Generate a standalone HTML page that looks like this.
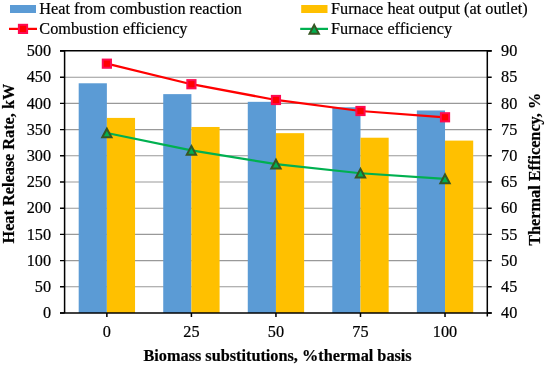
<!DOCTYPE html>
<html><head><meta charset="utf-8"><style>
html,body{margin:0;padding:0;background:#fff;}
body{width:550px;height:368px;overflow:hidden;}
svg{display:block;}
text{font-family:'Liberation Serif','Times New Roman',serif;font-size:16.25px;fill:#000;stroke:#000;stroke-width:0.2px;}
</style></head><body>
<svg width="550" height="368" viewBox="0 0 550 368">
<rect width="550" height="368" fill="#fff"/>
<line x1="64.6" x2="487.3" y1="286.80" y2="286.80" stroke="#999999" stroke-width="1.1"/>
<line x1="64.6" x2="487.3" y1="260.60" y2="260.60" stroke="#999999" stroke-width="1.1"/>
<line x1="64.6" x2="487.3" y1="234.40" y2="234.40" stroke="#999999" stroke-width="1.1"/>
<line x1="64.6" x2="487.3" y1="208.20" y2="208.20" stroke="#999999" stroke-width="1.1"/>
<line x1="64.6" x2="487.3" y1="182.00" y2="182.00" stroke="#999999" stroke-width="1.1"/>
<line x1="64.6" x2="487.3" y1="155.80" y2="155.80" stroke="#999999" stroke-width="1.1"/>
<line x1="64.6" x2="487.3" y1="129.60" y2="129.60" stroke="#999999" stroke-width="1.1"/>
<line x1="64.6" x2="487.3" y1="103.40" y2="103.40" stroke="#999999" stroke-width="1.1"/>
<line x1="64.6" x2="487.3" y1="77.20" y2="77.20" stroke="#999999" stroke-width="1.1"/>
<rect x="78.69" y="83.28" width="28.18" height="229.72" fill="#5b9bd5"/>
<rect x="106.87" y="117.91" width="28.18" height="195.09" fill="#ffc000"/>
<rect x="163.23" y="94.13" width="28.18" height="218.87" fill="#5b9bd5"/>
<rect x="191.41" y="126.98" width="28.18" height="186.02" fill="#ffc000"/>
<rect x="247.77" y="101.83" width="28.18" height="211.17" fill="#5b9bd5"/>
<rect x="275.95" y="133.16" width="28.18" height="179.84" fill="#ffc000"/>
<rect x="332.31" y="107.28" width="28.18" height="205.72" fill="#5b9bd5"/>
<rect x="360.49" y="137.72" width="28.18" height="175.28" fill="#ffc000"/>
<rect x="416.85" y="110.47" width="28.18" height="202.53" fill="#5b9bd5"/>
<rect x="445.03" y="140.60" width="28.18" height="172.40" fill="#ffc000"/>
<path d="M59.99999999999999 50.8H491.7" stroke="#000" stroke-width="1.4"/>
<path d="M59.99999999999999 313.0H491.7" stroke="#000" stroke-width="1.4"/>
<path d="M64.6 51.0V313.0" stroke="#000" stroke-width="1.5"/>
<path d="M487.3 51.0V316.6" stroke="#000" stroke-width="1.5"/>
<path d="M59.99999999999999 313.00H64.6M487.3 313.00H491.7" stroke="#000" stroke-width="1.4"/>
<path d="M59.99999999999999 286.80H64.6M487.3 286.80H491.7" stroke="#000" stroke-width="1.4"/>
<path d="M59.99999999999999 260.60H64.6M487.3 260.60H491.7" stroke="#000" stroke-width="1.4"/>
<path d="M59.99999999999999 234.40H64.6M487.3 234.40H491.7" stroke="#000" stroke-width="1.4"/>
<path d="M59.99999999999999 208.20H64.6M487.3 208.20H491.7" stroke="#000" stroke-width="1.4"/>
<path d="M59.99999999999999 182.00H64.6M487.3 182.00H491.7" stroke="#000" stroke-width="1.4"/>
<path d="M59.99999999999999 155.80H64.6M487.3 155.80H491.7" stroke="#000" stroke-width="1.4"/>
<path d="M59.99999999999999 129.60H64.6M487.3 129.60H491.7" stroke="#000" stroke-width="1.4"/>
<path d="M59.99999999999999 103.40H64.6M487.3 103.40H491.7" stroke="#000" stroke-width="1.4"/>
<path d="M59.99999999999999 77.20H64.6M487.3 77.20H491.7" stroke="#000" stroke-width="1.4"/>
<path d="M59.99999999999999 51.00H64.6M487.3 51.00H491.7" stroke="#000" stroke-width="1.4"/>
<path d="M106.87 313.0V317.0" stroke="#000" stroke-width="1.5"/>
<path d="M191.41 313.0V317.0" stroke="#000" stroke-width="1.5"/>
<path d="M275.95 313.0V317.0" stroke="#000" stroke-width="1.5"/>
<path d="M360.49 313.0V317.0" stroke="#000" stroke-width="1.5"/>
<path d="M445.03 313.0V317.0" stroke="#000" stroke-width="1.5"/>
<polyline points="106.87,63.68 191.41,84.22 275.95,99.99 360.49,111.00 445.03,117.29" fill="none" stroke="#ff0000" stroke-width="2.25" stroke-linejoin="round"/>
<polyline points="106.87,133.01 191.41,150.40 275.95,164.08 360.49,173.25 445.03,178.80" fill="none" stroke="#00b050" stroke-width="2.25" stroke-linejoin="round"/>
<rect x="102.77" y="59.58" width="8.2" height="8.2" fill="#ff0000" stroke="#ff0a50" stroke-width="2"/>
<rect x="187.31" y="80.12" width="8.2" height="8.2" fill="#ff0000" stroke="#ff0a50" stroke-width="2"/>
<rect x="271.85" y="95.89" width="8.2" height="8.2" fill="#ff0000" stroke="#ff0a50" stroke-width="2"/>
<rect x="356.39" y="106.90" width="8.2" height="8.2" fill="#ff0000" stroke="#ff0a50" stroke-width="2"/>
<rect x="440.93" y="113.19" width="8.2" height="8.2" fill="#ff0000" stroke="#ff0a50" stroke-width="2"/>
<path d="M106.87 128.66L111.52 137.36L102.22 137.36Z" fill="#00b050" stroke="#375623" stroke-width="2" stroke-linejoin="miter"/>
<path d="M191.41 146.05L196.06 154.75L186.76 154.75Z" fill="#00b050" stroke="#375623" stroke-width="2" stroke-linejoin="miter"/>
<path d="M275.95 159.73L280.60 168.43L271.30 168.43Z" fill="#00b050" stroke="#375623" stroke-width="2" stroke-linejoin="miter"/>
<path d="M360.49 168.90L365.14 177.60L355.84 177.60Z" fill="#00b050" stroke="#375623" stroke-width="2" stroke-linejoin="miter"/>
<path d="M445.03 174.45L449.68 183.15L440.38 183.15Z" fill="#00b050" stroke="#375623" stroke-width="2" stroke-linejoin="miter"/>
<text x="51" y="318.20" text-anchor="end">0</text>
<text x="501" y="318.20">40</text>
<text x="51" y="292.00" text-anchor="end">50</text>
<text x="501" y="292.00">45</text>
<text x="51" y="265.80" text-anchor="end">100</text>
<text x="501" y="265.80">50</text>
<text x="51" y="239.60" text-anchor="end">150</text>
<text x="501" y="239.60">55</text>
<text x="51" y="213.40" text-anchor="end">200</text>
<text x="501" y="213.40">60</text>
<text x="51" y="187.20" text-anchor="end">250</text>
<text x="501" y="187.20">65</text>
<text x="51" y="161.00" text-anchor="end">300</text>
<text x="501" y="161.00">70</text>
<text x="51" y="134.80" text-anchor="end">350</text>
<text x="501" y="134.80">75</text>
<text x="51" y="108.60" text-anchor="end">400</text>
<text x="501" y="108.60">80</text>
<text x="51" y="82.40" text-anchor="end">450</text>
<text x="501" y="82.40">85</text>
<text x="51" y="56.20" text-anchor="end">500</text>
<text x="501" y="56.20">90</text>
<text x="106.87" y="337.2" text-anchor="middle">0</text>
<text x="191.41" y="337.2" text-anchor="middle">25</text>
<text x="275.95" y="337.2" text-anchor="middle">50</text>
<text x="360.49" y="337.2" text-anchor="middle">75</text>
<text x="445.03" y="337.2" text-anchor="middle">100</text>
<text x="143.5" y="360.6" font-weight="bold">Biomass substitutions, %thermal basis</text>
<text transform="translate(14,243.5) rotate(-90)" font-weight="bold">Heat Release Rate, kW</text>
<text transform="translate(539.5,245.8) rotate(-90)" font-weight="bold">Thermal Efficency, %</text>
<rect x="10" y="5" width="26" height="8" fill="#5b9bd5"/>
<text x="39.3" y="14">Heat from combustion reaction</text>
<path d="M9 28.9H37" stroke="#ff0000" stroke-width="2.25"/>
<rect x="18.90" y="24.80" width="8.2" height="8.2" fill="#ff0000" stroke="#ff0a50" stroke-width="2"/>
<text x="39.3" y="33.6">Combustion efficiency</text>
<rect x="301.2" y="5" width="26.3" height="8" fill="#ffc000"/>
<text x="331" y="14">Furnace heat output (at outlet)</text>
<path d="M300.2 28.9H328" stroke="#00b050" stroke-width="2.25"/>
<path d="M314.20 24.95L318.85 33.65L309.55 33.65Z" fill="#00b050" stroke="#375623" stroke-width="2" stroke-linejoin="miter"/>
<text x="331" y="33.6">Furnace efficiency</text>
</svg>
</body></html>
